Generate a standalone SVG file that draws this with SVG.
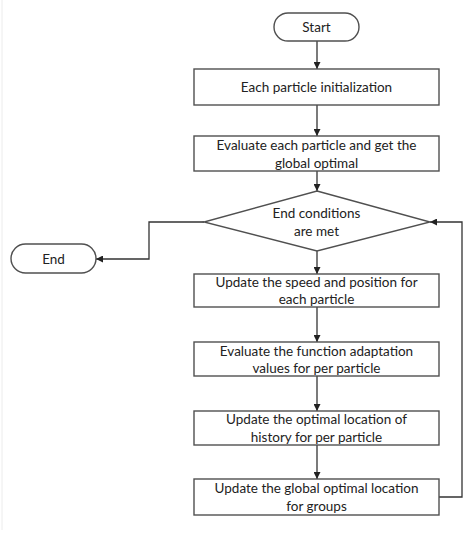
<svg xmlns="http://www.w3.org/2000/svg" width="474" height="533" viewBox="0 0 474 533">
<style>
.box{fill:#fff;stroke:#505050;stroke-width:1.4}
.ln{fill:none;stroke:#333;stroke-width:1.3}
text{font-family:Lato,"Liberation Sans",sans-serif;font-size:13.5px;fill:#222;text-anchor:middle;dominant-baseline:central}
</style>
<defs>
<marker id="ah" viewBox="0 0 8 8" refX="8" refY="4" markerWidth="7" markerHeight="7" markerUnits="userSpaceOnUse" orient="auto">
<path d="M0,0 L8,4 L0,8 z" fill="#222"/>
</marker>
</defs>
<rect width="474" height="533" fill="#fff"/>
<line x1="2" y1="0" x2="2" y2="530" stroke="#ececec" stroke-width="1"/>
<g id="connectors">
<line class="ln" x1="317" y1="41" x2="317" y2="69" marker-end="url(#ah)"/>
<line class="ln" x1="317" y1="105" x2="317" y2="136" marker-end="url(#ah)"/>
<line class="ln" x1="317" y1="171" x2="317" y2="191" marker-end="url(#ah)"/>
<line class="ln" x1="317" y1="251" x2="317" y2="274" marker-end="url(#ah)"/>
<line class="ln" x1="317" y1="307" x2="317" y2="342" marker-end="url(#ah)"/>
<line class="ln" x1="317" y1="376" x2="317" y2="411" marker-end="url(#ah)"/>
<line class="ln" x1="317" y1="445" x2="317" y2="479" marker-end="url(#ah)"/>
<polyline class="ln" points="204,222 149,222 149,259 96,259" marker-end="url(#ah)"/>
<polyline class="ln" points="439,497 462,497 462,222 430,222" marker-end="url(#ah)"/>
</g>
<g id="start">
<rect class="box" x="274" y="13" width="85" height="28" rx="14"/>
<text x="316.5" y="27">Start</text>
</g>
<g id="init">
<rect class="box" x="194" y="69" width="245" height="36"/>
<text x="316.5" y="87">Each particle initialization</text>
</g>
<g id="evaluate">
<rect class="box" x="194" y="136" width="245" height="35"/>
<text x="316.5" y="145">Evaluate each particle and get the</text>
<text x="316.5" y="163">global optimal</text>
</g>
<g id="decision">
<polygon class="box" points="317,191 430,222 317,251 204,222"/>
<text x="316.5" y="213">End conditions</text>
<text x="316.5" y="231">are met</text>
</g>
<g id="end">
<rect class="box" x="11" y="244" width="85" height="29" rx="14.5"/>
<text x="53.5" y="259">End</text>
</g>
<g id="update-speed">
<rect class="box" x="194" y="274" width="245" height="33"/>
<text x="316.5" y="282">Update the speed and position for</text>
<text x="316.5" y="299">each particle</text>
</g>
<g id="evaluate-fitness">
<rect class="box" x="194" y="342" width="245" height="34"/>
<text x="316.5" y="351">Evaluate the function adaptation</text>
<text x="316.5" y="368">values for per particle</text>
</g>
<g id="update-personal">
<rect class="box" x="194" y="411" width="245" height="34"/>
<text x="316.5" y="419">Update the optimal location of</text>
<text x="316.5" y="437">history for per particle</text>
</g>
<g id="update-global">
<rect class="box" x="194" y="479" width="245" height="36"/>
<text x="316.5" y="488">Update the global optimal location</text>
<text x="316.5" y="506">for groups</text>
</g>
</svg>
